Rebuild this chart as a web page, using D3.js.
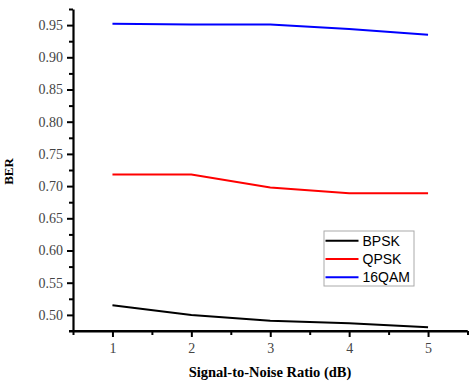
<!DOCTYPE html>
<html><head><meta charset="utf-8">
<script src="https://cdn.jsdelivr.net/npm/d3@7"></script>
<style>body{margin:0;background:#fff}svg{display:block}</style>
</head><body>
<svg id="c" width="474" height="386"></svg>
<script>
const snr = [1, 2, 3, 4, 5];
const bpsk = [0.515, 0.500, 0.491, 0.487, 0.481];
const qpsk = [0.718, 0.718, 0.698, 0.689, 0.689];
const qam16 = [0.952, 0.951, 0.951, 0.944, 0.935];
const seriesNames = ["BPSK", "QPSK", "16QAM"];
const seriesColors = ["#000000", "#ff0000", "#0000ff"];
const yTicks = [0.50, 0.55, 0.60, 0.65, 0.70, 0.75, 0.80, 0.85, 0.90, 0.95];
const xTicks = [1, 2, 3, 4, 5];

const svg = d3.select("#c");
const L = 73, R = 467.5, T = 9, B = 331;
const x = d3.scaleLinear().domain([0.5, 5.5]).range([L, R]);
const y = d3.scaleLinear().domain([0.475, 0.975]).range([B, T]);

const serif = "'Liberation Serif','Times New Roman',serif";

// minor ticks
const yMinor = d3.range(0.475, 0.9751, 0.05);
svg.append("g").attr("transform", `translate(${L},0)`)
  .call(d3.axisLeft(y).tickValues(yMinor).tickSize(4).tickFormat(""))
  .call(g => g.select(".domain").remove())
  .call(g => g.selectAll("line").attr("stroke", "#000").attr("stroke-width", 2));
const xMinor = [0.5, 1.5, 2.5, 3.5, 4.5, 5.5];
svg.append("g").attr("transform", `translate(0,${B})`)
  .call(d3.axisBottom(x).tickValues(xMinor).tickSize(4).tickFormat(""))
  .call(g => g.select(".domain").remove())
  .call(g => g.selectAll("line").attr("stroke", "#000").attr("stroke-width", 2));

// major axes
const ya = svg.append("g").attr("transform", `translate(${L},0)`)
  .call(d3.axisLeft(y).tickValues(yTicks).tickSize(6).tickSizeOuter(0).tickPadding(4).tickFormat(d3.format(".2f")));
const xa = svg.append("g").attr("transform", `translate(0,${B})`)
  .call(d3.axisBottom(x).tickValues(xTicks).tickSize(6).tickSizeOuter(0).tickPadding(6).tickFormat(d3.format("d")));
[ya, xa].forEach(g => {
  g.select(".domain").attr("stroke", "#000").attr("stroke-width", 2.2);
  g.selectAll(".tick line").attr("stroke", "#000").attr("stroke-width", 2);
  g.selectAll("text").attr("font-family", serif).attr("font-size", 14).attr("fill", "#444");
});
svg.append("line").attr("x1", L - 4).attr("x2", R).attr("y1", B).attr("y2", B).attr("stroke", "#000").attr("stroke-width", 2.2);

// lines
const data = [bpsk, qpsk, qam16];
const line = d3.line().x((d, i) => x(snr[i])).y(d => y(d));
data.forEach((s, k) => {
  svg.append("path").datum(s).attr("d", line).attr("fill", "none")
    .attr("stroke", seriesColors[k]).attr("stroke-width", 2);
});

// titles
svg.append("text").attr("x", 270).attr("y", 377).attr("text-anchor", "middle")
  .attr("font-family", serif).attr("font-weight", "bold").attr("font-size", 14.5)
  .text("Signal-to-Noise Ratio (dB)");
svg.append("text").attr("transform", "translate(13,171.5) rotate(-90)").attr("text-anchor", "middle")
  .attr("font-family", serif).attr("font-weight", "bold").attr("font-size", 13)
  .text("BER");

// legend
const lg = svg.append("g");
lg.append("rect").attr("x", 324).attr("y", 231).attr("width", 90).attr("height", 55)
  .attr("fill", "#fff").attr("stroke", "#aaa").attr("stroke-width", 1);
seriesNames.forEach((n, k) => {
  const yy = 240.7 + k * 18.3;
  lg.append("line").attr("x1", 325.5).attr("x2", 358.5).attr("y1", yy).attr("y2", yy)
    .attr("stroke", seriesColors[k]).attr("stroke-width", 2);
  lg.append("text").attr("x", 362.5).attr("y", yy + 5).attr("font-family", "'Liberation Sans',Arial,sans-serif")
    .attr("font-size", 14).attr("fill", "#000").text(n);
});
</script>
</body></html>
